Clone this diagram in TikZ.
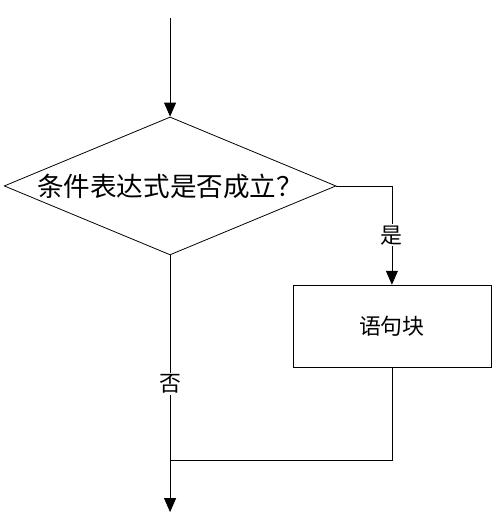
\documentclass[tikz,border=0pt]{standalone}
\usepackage{fontspec}
\newfontfamily\cjk{Noto Sans CJK SC}
\usetikzlibrary{shapes.geometric,arrows.meta,positioning}

\tikzset{
	flowline/.style={line width=0.6pt},
	bigtext/.style={font=\cjk\fontsize{20}{24}\selectfont},
	smalltext/.style={font=\cjk\fontsize{16.5}{20}\selectfont}
}

\begin{document}
\begin{tikzpicture}[flowline, >={Triangle[width=9pt,length=10.5pt]}]
	\useasboundingbox (0,0) rectangle (13.12,-14.05);

	\coordinate (start) at (4.50,-0.48);
	\node[diamond, draw, flowline, bigtext, inner sep=0pt, shape aspect=2.4, minimum width=8.78cm, minimum height=3.65cm] (cond) at (4.50,-4.92) {条件表达式是否成立？};
	\node[draw, flowline, smalltext, minimum width=5.24cm, minimum height=2.17cm] (block) at (10.37,-8.63) {语句块};

	\coordinate (join) at (4.50,-12.17);
	\coordinate (stop) at (4.50,-13.55);

	\draw[->] (start) -- (cond.north);
	\draw[->] (cond.east) -| (block.north) node[pos=0.75, fill=white, smalltext, inner sep=1pt] {是};
	\draw (block.south) |- (join);
	\draw[->] (cond.south) -- (stop) node[pos=0.5, fill=white, smalltext, inner sep=1pt] {否};
\end{tikzpicture}
\end{document}
